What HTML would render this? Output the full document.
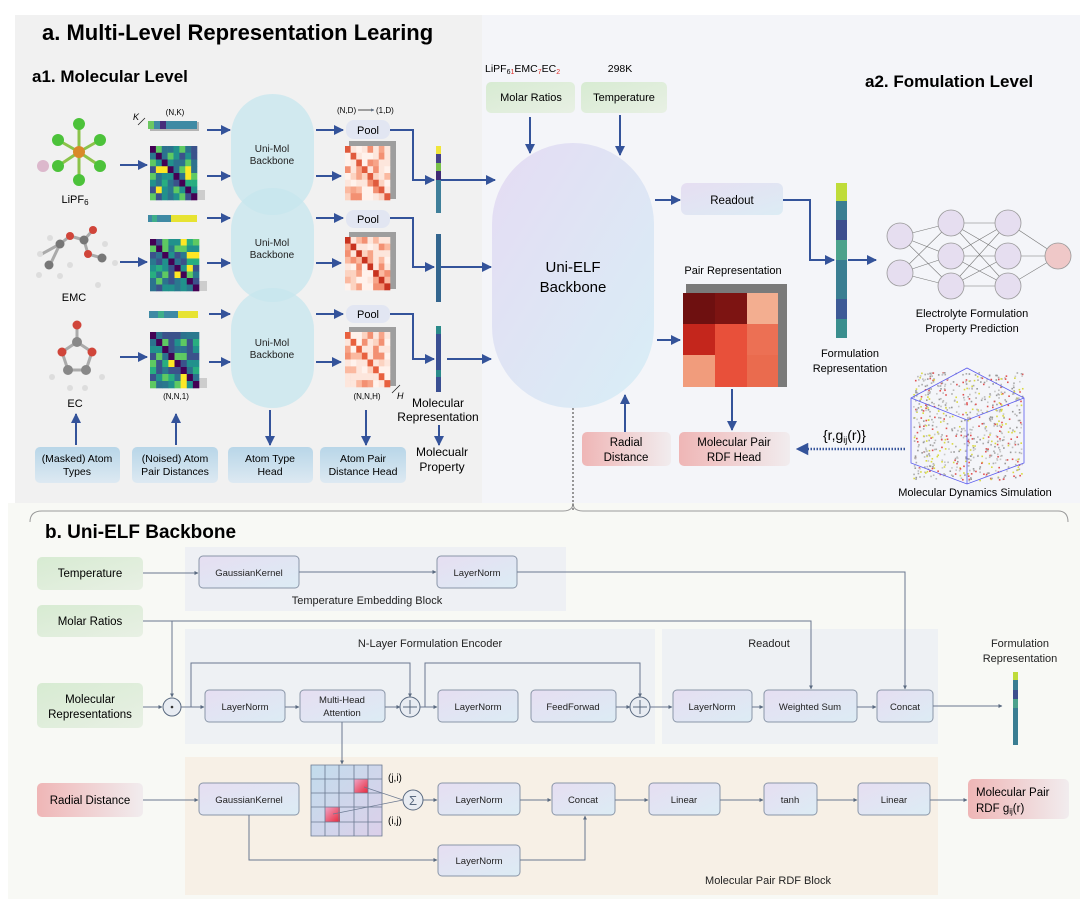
<!DOCTYPE html>
<html><head><meta charset="utf-8">
<style>
html,body{margin:0;padding:0;background:#fff;width:1080px;height:899px;overflow:hidden}
svg{display:block;font-family:"Liberation Sans",sans-serif}
</style></head>
<body>
<svg id="s" width="1080" height="899" viewBox="0 0 1080 899" xmlns="http://www.w3.org/2000/svg">
<defs>
<marker id="ab" viewBox="0 0 10 10" refX="9" refY="5" markerWidth="5" markerHeight="5" orient="auto"><path d="M0,0L10,5L0,10z" fill="#34539a"/></marker>
<marker id="ag" viewBox="0 0 10 10" refX="9" refY="5" markerWidth="4" markerHeight="4" orient="auto"><path d="M0,0L10,5L0,10z" fill="#5a6a80"/></marker>
<linearGradient id="gB" x1="0" y1="0" x2="0" y2="1"><stop offset="0" stop-color="#b8d6e8"/><stop offset="1" stop-color="#dde9f2"/></linearGradient>
<linearGradient id="gG" x1="0" y1="0" x2="1" y2="1"><stop offset="0" stop-color="#d7ebd2"/><stop offset="1" stop-color="#e8f0e4"/></linearGradient>
<linearGradient id="gR" x1="0" y1="0" x2="1" y2="0"><stop offset="0" stop-color="#efb6b6"/><stop offset="1" stop-color="#f1ecee"/></linearGradient>
<linearGradient id="gP" x1="0" y1="0" x2="1" y2="1"><stop offset="0" stop-color="#e6def2"/><stop offset="1" stop-color="#dcecf4"/></linearGradient>
<linearGradient id="gE" x1="0" y1="0" x2="1" y2="1"><stop offset="0" stop-color="#e5dcf3"/><stop offset="1" stop-color="#d8eef6"/></linearGradient>
<linearGradient id="gC" x1="0" y1="0" x2="1" y2="1"><stop offset="0" stop-color="#f0a6c8"/><stop offset="1" stop-color="#e8283a"/></linearGradient>
<linearGradient id="gGrid" x1="0" y1="0" x2="1" y2="1"><stop offset="0" stop-color="#c2dcec"/><stop offset="1" stop-color="#dcd0ea"/></linearGradient>
</defs>

<rect x="15" y="15" width="467" height="488" fill="#f1f1f1"/>
<rect x="482" y="15" width="598" height="488" fill="#f4f5f9"/>
<rect x="8" y="503" width="1072" height="396" fill="#f8f9f5"/>
<path d="M30,522 Q30,511 42,511 L563,511 Q573,511 573,503 Q573,511 583,511 L1058,511 Q1068,511 1068,522" fill="none" stroke="#9a9a9a" stroke-width="1"/>
<line x1="573" y1="408" x2="573" y2="510" stroke="#777" stroke-width="1.5" stroke-dasharray="2,2"/>

<text x="42" y="40" font-size="22" font-weight="bold">a. Multi-Level Representation Learing</text>
<text x="32" y="82" font-size="17" font-weight="bold">a1. Molecular Level</text>
<text x="865" y="87" font-size="17" font-weight="bold">a2. Fomulation Level</text>
<text x="45" y="538" font-size="19" font-weight="bold">b. Uni-ELF Backbone</text>

<g>
<line x1="79" y1="152" x2="79" y2="124" stroke="#8bc34a" stroke-width="3"/>
<line x1="79" y1="152" x2="79" y2="180" stroke="#8bc34a" stroke-width="3"/>
<line x1="79" y1="152" x2="58" y2="140" stroke="#8bc34a" stroke-width="3"/>
<line x1="79" y1="152" x2="100" y2="140" stroke="#8bc34a" stroke-width="3"/>
<line x1="79" y1="152" x2="58" y2="166" stroke="#8bc34a" stroke-width="3"/>
<line x1="79" y1="152" x2="100" y2="166" stroke="#8bc34a" stroke-width="3"/>
<circle cx="79" cy="124" r="6" fill="#4cc23a"/><circle cx="79" cy="180" r="6" fill="#4cc23a"/>
<circle cx="58" cy="140" r="6" fill="#4cc23a"/><circle cx="100" cy="140" r="6" fill="#4cc23a"/>
<circle cx="58" cy="166" r="6" fill="#4cc23a"/><circle cx="100" cy="166" r="6" fill="#4cc23a"/>
<circle cx="79" cy="152" r="6" fill="#d9892a"/>
<circle cx="43" cy="166" r="6" fill="#dcb8cc"/>
<text x="75" y="203" font-size="11" text-anchor="middle">LiPF<tspan font-size="8" dy="2">6</tspan></text>
</g>
<g stroke="#aaa" stroke-width="3">
<line x1="40" y1="255" x2="60" y2="244"/><line x1="60" y1="244" x2="70" y2="236"/><line x1="70" y1="236" x2="84" y2="240"/><line x1="84" y1="240" x2="93" y2="230"/><line x1="84" y1="240" x2="88" y2="254"/><line x1="88" y1="254" x2="102" y2="258"/><line x1="50" y1="265" x2="60" y2="244"/>
</g>
<circle cx="49" cy="265" r="4.5" fill="#777"/><circle cx="60" cy="244" r="4.5" fill="#777"/><circle cx="70" cy="236" r="4" fill="#d0453a"/><circle cx="84" cy="240" r="4.5" fill="#777"/><circle cx="93" cy="230" r="4" fill="#d0453a"/><circle cx="88" cy="254" r="4" fill="#d0453a"/><circle cx="102" cy="258" r="4.5" fill="#777"/>
<circle cx="40" cy="254" r="3" fill="#ddd"/><circle cx="39" cy="275" r="3" fill="#ddd"/><circle cx="60" cy="276" r="3" fill="#ddd"/><circle cx="50" cy="238" r="3" fill="#ddd"/><circle cx="70" cy="265" r="3" fill="#ddd"/><circle cx="98" cy="285" r="3" fill="#ddd"/><circle cx="115" cy="263" r="3" fill="#ddd"/><circle cx="105" cy="244" r="3" fill="#ddd"/>
<text x="74" y="301" font-size="11" text-anchor="middle">EMC</text>
<g stroke="#aaa" stroke-width="3"><line x1="77" y1="325" x2="77" y2="342"/><line x1="77" y1="342" x2="62" y2="352"/><line x1="77" y1="342" x2="92" y2="352"/><line x1="62" y1="352" x2="68" y2="370"/><line x1="92" y1="352" x2="86" y2="370"/><line x1="68" y1="370" x2="86" y2="370"/></g>
<circle cx="77" cy="325" r="4.5" fill="#d0453a"/><circle cx="77" cy="342" r="5" fill="#888"/><circle cx="62" cy="352" r="4.5" fill="#d0453a"/><circle cx="92" cy="352" r="4.5" fill="#d0453a"/><circle cx="68" cy="370" r="5" fill="#888"/><circle cx="86" cy="370" r="5" fill="#888"/>
<circle cx="52" cy="377" r="3" fill="#ddd"/><circle cx="102" cy="377" r="3" fill="#ddd"/><circle cx="70" cy="388" r="3" fill="#ddd"/><circle cx="85" cy="388" r="3" fill="#ddd"/>
<text x="75" y="407" font-size="11" text-anchor="middle">EC</text>

<g stroke="#34539a" stroke-width="2" marker-end="url(#ab)" fill="none">
<line x1="120" y1="165" x2="147" y2="165"/><line x1="120" y1="262" x2="147" y2="262"/><line x1="120" y1="357" x2="147" y2="357"/>
<line x1="207" y1="130" x2="230" y2="130"/><line x1="207" y1="176" x2="230" y2="176"/>
<line x1="207" y1="218" x2="230" y2="218"/><line x1="207" y1="263" x2="230" y2="263"/>
<line x1="209" y1="314" x2="230" y2="314"/><line x1="209" y1="362" x2="230" y2="362"/>
<line x1="316" y1="130" x2="343" y2="130"/><line x1="316" y1="176" x2="341" y2="176"/>
<line x1="316" y1="218" x2="343" y2="218"/><line x1="316" y1="263" x2="341" y2="263"/>
<line x1="316" y1="314" x2="343" y2="314"/><line x1="316" y1="362" x2="341" y2="362"/>
<polyline points="390,130 413,130 413,180 434,180"/>
<polyline points="390,218 413,218 413,267 434,267"/>
<polyline points="390,314 413,314 413,359 434,359"/>
<line x1="441" y1="180" x2="495" y2="180"/><line x1="441" y1="267" x2="491" y2="267"/><line x1="447" y1="359" x2="491" y2="359"/>
<line x1="76" y1="445" x2="76" y2="414"/><line x1="176" y1="445" x2="176" y2="414"/>
<line x1="270" y1="410" x2="270" y2="445"/><line x1="366" y1="410" x2="366" y2="445"/><line x1="439" y1="425" x2="439" y2="445"/>
<line x1="530" y1="117" x2="530" y2="153"/><line x1="620" y1="115" x2="620" y2="155"/>
<line x1="655" y1="200" x2="680" y2="200"/><line x1="657" y1="340" x2="680" y2="340"/>
<polyline points="783,200 810,200 810,260 834,260"/><line x1="848" y1="260" x2="876" y2="260"/>
<line x1="625" y1="432" x2="625" y2="395"/><line x1="732" y1="389" x2="732" y2="430"/>
</g>
<line x1="905" y1="449" x2="797" y2="449" stroke="#34539a" stroke-width="2.5" stroke-dasharray="1.5,1.5" marker-end="url(#ab)"/>

<text x="175" y="115" font-size="8" text-anchor="middle">(N,K)</text>
<text x="133" y="120" font-size="9" font-style="italic">K</text>
<line x1="138" y1="125" x2="145" y2="118" stroke="#222" stroke-width="0.8"/>
<text x="176" y="399" font-size="8" text-anchor="middle">(N,N,1)</text>
<text x="337" y="113" font-size="8">(N,D)</text>
<line x1="358" y1="110" x2="374" y2="110" stroke="#222" stroke-width="0.8" marker-end="url(#ag)"/>
<text x="376" y="113" font-size="8">(1,D)</text>
<text x="367" y="399" font-size="8" text-anchor="middle">(N,N,H)</text>
<text x="397" y="399" font-size="9" font-style="italic">H</text>
<line x1="392" y1="393" x2="400" y2="385" stroke="#222" stroke-width="0.8"/>

<rect x="150" y="122" width="49" height="9" fill="#777" opacity=".5"/>
<rect x="148" y="121" width="49" height="8" fill="#3f8aa4"/><rect x="148" y="121" width="6" height="8" fill="#6cc861"/><rect x="160" y="121" width="6" height="8" fill="#472d7b"/>
<rect x="148" y="215" width="49" height="7" fill="#3f8aa4"/><rect x="171" y="215" width="26" height="7" fill="#e7e332"/><rect x="152" y="215" width="5" height="7" fill="#3fae8a"/>
<rect x="149" y="311" width="49" height="7" fill="#3f8aa4"/><rect x="178" y="311" width="20" height="7" fill="#e7e332"/><rect x="158" y="311" width="6" height="7" fill="#3fae8a"/>
<g id="hm"></g>

<rect x="231" y="94" width="83" height="121" rx="41.5" fill="#c6e6ee" opacity=".75"/>
<rect x="231" y="188" width="83" height="114" rx="41.5" fill="#c6e6ee" opacity=".75"/>
<rect x="231" y="288" width="83" height="120" rx="41.5" fill="#c6e6ee" opacity=".75"/>
<g font-size="10" text-anchor="middle" fill="#222">
<text x="272" y="152">Uni-Mol</text><text x="272" y="164">Backbone</text>
<text x="272" y="246">Uni-Mol</text><text x="272" y="258">Backbone</text>
<text x="272" y="346">Uni-Mol</text><text x="272" y="358">Backbone</text>
</g>
<g fill="#e2e6f2"><rect x="346" y="120" width="44" height="19" rx="8"/><rect x="346" y="210" width="44" height="18" rx="8"/><rect x="346" y="305" width="44" height="18" rx="8"/></g>
<g font-size="11" text-anchor="middle"><text x="368" y="134">Pool</text><text x="368" y="223">Pool</text><text x="368" y="318">Pool</text></g>

<rect x="436" y="146" width="5" height="67" fill="#3f7f9a"/><rect x="436" y="146" width="5" height="8" fill="#f0e53a"/><rect x="436" y="154" width="5" height="9" fill="#46418a"/><rect x="436" y="163" width="5" height="8" fill="#7ac24a"/><rect x="436" y="171" width="5" height="9" fill="#3f2a74"/>
<rect x="436" y="234" width="5" height="68" fill="#33658e"/>
<rect x="436" y="326" width="5" height="66" fill="#3a4f92"/><rect x="436" y="326" width="5" height="8" fill="#2a8a8a"/><rect x="436" y="370" width="5" height="7" fill="#2a8a8a"/>
<g font-size="12" text-anchor="middle"><text x="438" y="407">Molecular</text><text x="438" y="421">Representation</text><text x="442" y="456">Molecualr</text><text x="442" y="471">Property</text></g>

<g fill="url(#gB)"><rect x="35" y="447" width="85" height="36" rx="5"/><rect x="132" y="447" width="86" height="36" rx="5"/><rect x="228" y="447" width="85" height="36" rx="5"/><rect x="320" y="447" width="86" height="36" rx="5"/></g>
<g font-size="10.5" text-anchor="middle"><text x="77" y="462">(Masked) Atom</text><text x="77" y="475">Types</text><text x="175" y="462">(Noised) Atom</text><text x="175" y="475">Pair Distances</text><text x="270" y="462">Atom Type</text><text x="270" y="475">Head</text><text x="363" y="462">Atom Pair</text><text x="363" y="475">Distance Head</text></g>

<text x="485" y="72" font-size="10.5">LiPF<tspan font-size="7" dy="2">6</tspan><tspan font-size="7" fill="#e0302a">1</tspan><tspan dy="-2">EMC</tspan><tspan font-size="7" dy="2" fill="#e0302a">7</tspan><tspan dy="-2">EC</tspan><tspan font-size="7" dy="2" fill="#e0302a">2</tspan></text>
<text x="620" y="72" font-size="10.5" text-anchor="middle">298K</text>
<rect x="486" y="82" width="89" height="31" rx="5" fill="url(#gG)"/><rect x="581" y="82" width="86" height="31" rx="5" fill="url(#gG)"/>
<text x="531" y="101" font-size="11" text-anchor="middle">Molar Ratios</text><text x="624" y="101" font-size="11" text-anchor="middle">Temperature</text>
<rect x="492" y="143" width="162" height="265" rx="81" fill="url(#gE)"/>
<text x="573" y="272" font-size="15" text-anchor="middle">Uni-ELF</text><text x="573" y="292" font-size="15" text-anchor="middle">Backbone</text>
<rect x="681" y="183" width="102" height="32" rx="6" fill="url(#gP)"/><text x="732" y="204" font-size="11.5" text-anchor="middle">Readout</text>
<rect x="836" y="183" width="11" height="155" fill="#3a7e92"/><rect x="836" y="183" width="11" height="18" fill="#bfdc3a"/><rect x="836" y="220" width="11" height="20" fill="#3d4f8e"/><rect x="836" y="240" width="11" height="20" fill="#4ca28c"/><rect x="836" y="299" width="11" height="20" fill="#3d5a96"/><rect x="836" y="319" width="11" height="19" fill="#3a8e8e"/>
<text x="850" y="357" font-size="11" text-anchor="middle">Formulation</text><text x="850" y="372" font-size="11" text-anchor="middle">Representation</text>
<text x="733" y="274" font-size="11" text-anchor="middle">Pair Representation</text>
<rect x="686" y="284" width="101" height="103" fill="#7a7a7a"/>
<rect x="683" y="293" width="32" height="31" fill="#6e1010"/><rect x="715" y="293" width="32" height="31" fill="#7d1412"/><rect x="747" y="293" width="31" height="31" fill="#f3ae90"/>
<rect x="683" y="324" width="32" height="31" fill="#c4261c"/><rect x="715" y="324" width="32" height="31" fill="#e8503a"/><rect x="747" y="324" width="31" height="31" fill="#ec7054"/>
<rect x="683" y="355" width="32" height="32" fill="#f19c7c"/><rect x="715" y="355" width="32" height="32" fill="#e8503a"/><rect x="747" y="355" width="31" height="32" fill="#ea6b4e"/>
<g stroke="#777" stroke-width=".6">
<path d="M900,236L951,223M900,236L951,256M900,236L951,286M900,273L951,223M900,273L951,256M900,273L951,286"/>
<path d="M951,223L1008,223M951,223L1008,256M951,223L1008,286M951,256L1008,223M951,256L1008,256M951,256L1008,286M951,286L1008,223M951,286L1008,256M951,286L1008,286"/>
<path d="M1008,223L1058,256M1008,256L1058,256M1008,286L1058,256"/>
</g>
<g stroke="#999" stroke-width=".8" fill="#e6def0"><circle cx="900" cy="236" r="13"/><circle cx="900" cy="273" r="13"/><circle cx="951" cy="223" r="13"/><circle cx="951" cy="256" r="13"/><circle cx="951" cy="286" r="13"/><circle cx="1008" cy="223" r="13"/><circle cx="1008" cy="256" r="13"/><circle cx="1008" cy="286" r="13"/><circle cx="1058" cy="256" r="13" fill="#efc8c8"/></g>
<text x="972" y="317" font-size="11" text-anchor="middle">Electrolyte Formulation</text><text x="972" y="332" font-size="11" text-anchor="middle">Property Prediction</text>
<rect x="582" y="432" width="89" height="34" rx="5" fill="url(#gR)"/><rect x="679" y="432" width="111" height="34" rx="5" fill="url(#gR)"/>
<g font-size="11.5" text-anchor="middle"><text x="626" y="446">Radial</text><text x="626" y="461">Distance</text><text x="734" y="446">Molecular Pair</text><text x="734" y="461">RDF Head</text></g>
<text x="823" y="440" font-size="14">{r,g<tspan font-size="9" dy="3">ij</tspan><tspan dy="-3">(r)}</tspan></text>
<g id="md"></g>
<g stroke="#5b5bee" stroke-width=".8" fill="none"><path d="M911,398L967,368L1024,398L1024,463L967,484L911,463Z"/><path d="M911,398L967,420L1024,398M967,420L967,484"/></g>
<text x="975" y="496" font-size="11" text-anchor="middle">Molecular Dynamics Simulation</text>

<rect x="185" y="547" width="381" height="64" fill="#eef0f4"/>
<rect x="185" y="629" width="470" height="115" fill="#eef1f4"/>
<rect x="662" y="629" width="276" height="115" fill="#eef1f4"/>
<rect x="185" y="757" width="753" height="138" fill="#f7f0e6"/>
<g font-size="11" text-anchor="middle" fill="#222">
<text x="367" y="604">Temperature Embedding Block</text>
<text x="430" y="647">N-Layer Formulation Encoder</text>
<text x="769" y="647">Readout</text>
<text x="768" y="884">Molecular Pair RDF Block</text>
<text x="1020" y="647">Formulation</text><text x="1020" y="662">Representation</text>
</g>
<g fill="url(#gG)"><rect x="37" y="557" width="106" height="33" rx="5"/><rect x="37" y="605" width="106" height="32" rx="5"/><rect x="37" y="683" width="106" height="45" rx="5"/></g>
<rect x="37" y="783" width="106" height="34" rx="5" fill="url(#gR)"/>
<rect x="968" y="779" width="101" height="40" rx="5" fill="url(#gR)"/>
<g font-size="11.5" text-anchor="middle"><text x="90" y="577">Temperature</text><text x="90" y="625">Molar Ratios</text><text x="90" y="703">Molecular</text><text x="90" y="718">Representations</text><text x="90" y="804">Radial Distance</text></g>
<text x="976" y="796" font-size="11.5">Molecular Pair</text><text x="976" y="812" font-size="11.5">RDF g<tspan font-size="8" dy="2">ij</tspan><tspan dy="-2">(r)</tspan></text>

<g stroke="#8a96a8" stroke-width="1" fill="url(#gP)">
<rect x="199" y="556" width="100" height="32" rx="4"/><rect x="437" y="556" width="80" height="32" rx="4"/>
<rect x="205" y="690" width="80" height="32" rx="4"/><rect x="300" y="690" width="85" height="32" rx="4"/>
<rect x="438" y="690" width="80" height="32" rx="4"/><rect x="531" y="690" width="85" height="32" rx="4"/>
<rect x="673" y="690" width="79" height="32" rx="4"/><rect x="764" y="690" width="93" height="32" rx="4"/><rect x="877" y="690" width="56" height="32" rx="4"/>
<rect x="199" y="783" width="100" height="32" rx="4"/><rect x="438" y="783" width="82" height="32" rx="4"/><rect x="552" y="783" width="63" height="32" rx="4"/>
<rect x="649" y="783" width="71" height="32" rx="4"/><rect x="764" y="783" width="53" height="32" rx="4"/><rect x="858" y="783" width="72" height="32" rx="4"/>
<rect x="438" y="845" width="82" height="31" rx="4"/>
</g>
<g font-size="9.5" text-anchor="middle" fill="#222">
<text x="249" y="576">GaussianKernel</text><text x="477" y="576">LayerNorm</text>
<text x="245" y="710">LayerNorm</text><text x="342" y="703">Multi-Head</text><text x="342" y="716">Attention</text>
<text x="478" y="710">LayerNorm</text><text x="573" y="710">FeedForwad</text>
<text x="712" y="710">LayerNorm</text><text x="810" y="710">Weighted Sum</text><text x="905" y="710">Concat</text>
<text x="249" y="803">GaussianKernel</text><text x="479" y="803">LayerNorm</text><text x="583" y="803">Concat</text>
<text x="684" y="803">Linear</text><text x="790" y="803">tanh</text><text x="894" y="803">Linear</text>
<text x="479" y="864">LayerNorm</text>
</g>
<g stroke="#6a7890" stroke-width="1" fill="none" marker-end="url(#ag)">
<line x1="143" y1="573" x2="198" y2="573"/><line x1="299" y1="572" x2="436" y2="572"/>
<polyline points="517,572 905,572 905,689"/>
<polyline points="143,621 811,621 811,689"/>
<line x1="172" y1="621" x2="172" y2="697"/>
<line x1="143" y1="707" x2="162" y2="707"/><line x1="181" y1="707" x2="204" y2="707"/>
<line x1="285" y1="707" x2="299" y2="707"/><line x1="385" y1="707" x2="400" y2="707"/>
<polyline points="191,707 191,663 410,663 410,697"/>
<line x1="420" y1="707" x2="437" y2="707"/>
<polyline points="425,707 425,663 640,663 640,697"/>
<line x1="616" y1="707" x2="630" y2="707"/><line x1="650" y1="707" x2="672" y2="707"/>
<line x1="752" y1="707" x2="763" y2="707"/><line x1="857" y1="707" x2="876" y2="707"/>
<line x1="933" y1="706" x2="1002" y2="706"/>
<line x1="342" y1="722" x2="342" y2="764"/>
<line x1="143" y1="800" x2="198" y2="800"/>
<line x1="423" y1="800" x2="437" y2="800"/><line x1="520" y1="800" x2="551" y2="800"/>
<line x1="615" y1="800" x2="648" y2="800"/><line x1="720" y1="800" x2="763" y2="800"/>
<line x1="817" y1="800" x2="857" y2="800"/><line x1="930" y1="800" x2="967" y2="800"/>
<polyline points="249,815 249,860 437,860"/><polyline points="520,860 585,860 585,816"/>
</g>
<g stroke="#5a6a80" fill="#e8ecf2" stroke-width="1"><circle cx="172" cy="707" r="9"/><circle cx="410" cy="707" r="10"/><circle cx="640" cy="707" r="10"/><circle cx="413" cy="800" r="10"/></g>
<circle cx="172" cy="707" r="1.3" fill="#333"/>
<path d="M403,707h14M410,700v14M633,707h14M640,700v14" stroke="#5a6a80" fill="none"/>
<text x="413" y="805" font-size="13" text-anchor="middle" fill="#5a6a80">Σ</text>
<rect x="311" y="765" width="71" height="71" fill="url(#gGrid)"/>
<rect x="354" y="779" width="14" height="14" fill="url(#gC)"/><rect x="325" y="807" width="15" height="15" fill="url(#gC)"/>
<path d="M311,765h71v71h-71zM325,765v71M339,765v71M354,765v71M368,765v71M311,779h71M311,793h71M311,807h71M311,822h71" stroke="#6a7890" stroke-width=".8" fill="none"/>
<path d="M364,787L403,800M333,814L403,800" stroke="#6a7890" stroke-width=".7" fill="none"/>
<text x="388" y="781" font-size="10">(j,i)</text><text x="388" y="824" font-size="10">(i,j)</text>
<rect x="1013" y="672" width="5" height="73" fill="#3a7e92"/><rect x="1013" y="672" width="5" height="8" fill="#bfdc3a"/><rect x="1013" y="690" width="5" height="9" fill="#3d4f8e"/><rect x="1013" y="699" width="5" height="9" fill="#4ca28c"/>
</svg>
<script>
(function(){
var ns="http://www.w3.org/2000/svg",s=7;
function r(){s=(s*9301+49297)%233280;return s/233280;}
function rect(g,x,y,w,h,c,op){var e=document.createElementNS(ns,"rect");e.setAttribute("x",x);e.setAttribute("y",y);e.setAttribute("width",w);e.setAttribute("height",h);e.setAttribute("fill",c);if(op)e.setAttribute("opacity",op);g.appendChild(e);}
var hm=document.getElementById("hm");
var vir=["#3b528b","#2c728e","#21918c","#28ae80","#5ec962","#2c728e","#21918c","#3b528b","#2a788e","#fde725"];
var red=["#fde6dc","#fcd3c1","#fbb9a0","#f39072","#fde6dc","#fff2ec","#f7a488","#fde6dc","#fff2ec"];
function map(x,y,w,h,pal,diag,sh){
 if(sh)rect(hm,x+4,y-5,w+2,h+4,"#8a8a8a","0.8");
 else rect(hm,x+w-10,y+h-10,18,10,"#999","0.4");
 var n=8,cw=w/n,ch=h/n;
 for(var i=0;i<n;i++)for(var j=0;j<n;j++){var c=(i==j)?diag:pal[Math.floor(r()*pal.length)];rect(hm,x+j*cw,y+i*ch,cw+.3,ch+.3,c);}
}
map(150,146,47,54,vir,"#440154");map(150,239,49,52,vir,"#440154");map(150,332,49,56,vir,"#440154");
map(345,146,45,54,red,"#e05a3c",1);map(345,237,45,53,red,"#c8331f",1);map(345,332,45,55,red,"#e8603e",1);
var md=document.getElementById("md"),cols=["#e05050","#aaa","#999","#d9d940","#c8c8c8","#bbb"];
for(var k=0;k<700;k++){var a=913+r()*109,b=372+r()*108;rect(md,a,b,1.6,1.6,cols[Math.floor(r()*cols.length)]);}
})();
</script>
</body></html>
